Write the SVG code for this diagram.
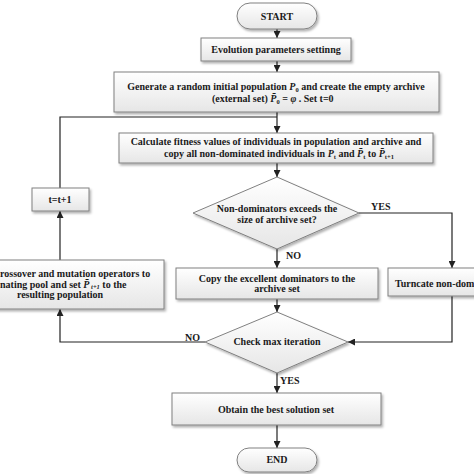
<svg xmlns="http://www.w3.org/2000/svg" width="474" height="474" viewBox="0 0 474 474">
<defs>
<linearGradient id="g" x1="0" y1="0" x2="0" y2="1">
<stop offset="0" stop-color="#ffffff"/>
<stop offset="1" stop-color="#e6e6e6"/>
</linearGradient>
<filter id="sh" x="-10%" y="-20%" width="130%" height="150%">
<feDropShadow dx="1.5" dy="2" stdDeviation="1" flood-color="#000" flood-opacity="0.3"/>
</filter>
<marker id="ah" viewBox="0 0 10 10" refX="10" refY="5" markerWidth="7" markerHeight="7" markerUnits="userSpaceOnUse" orient="auto">
<path d="M0,0 L10,5 L0,10 z" fill="#222"/>
</marker>
<style>
.n{fill:url(#g);stroke:#808080;stroke-width:1;filter:url(#sh)}
text{font-family:'Liberation Serif','Times New Roman','DejaVu Serif',serif;font-size:10px;font-weight:bold;fill:#1a1a1a}
.c{text-anchor:middle}
.i{font-style:italic}
.s{font-size:6.5px}
.e{fill:none;stroke:#222;stroke-width:1.2}
.a{marker-end:url(#ah)}
</style>
</defs>
<rect width="474" height="474" fill="#ffffff"/>

<g id="connectors">
<path class="e a" d="M277,29 V38"/>
<path class="e a" d="M277,61 V72"/>
<path class="e a" d="M277,112 V133"/>
<path class="e" d="M60,188 V117 H277"/>
<path class="e a" d="M60,260 V211"/>
<path class="e a" d="M277,163 V177"/>
<path class="e a" d="M359,213 H452 V268"/>
<path class="e a" d="M277,249 V268"/>
<path class="e a" d="M277,299 V312"/>
<path class="e a" d="M452,296 V342 H348"/>
<path class="e a" d="M205,342 H60 V309"/>
<path class="e a" d="M277,373 V393"/>
<path class="e a" d="M277,425 V448"/>
<text x="371" y="209.5">YES</text>
<text x="286" y="258.5">NO</text>
<text x="185" y="340.5">NO</text>
<text x="280" y="383.5">YES</text>
</g>

<g id="start">
<rect class="n" x="237" y="3" width="80" height="26" rx="13"/>
<text class="c" x="277" y="19.5">START</text>
</g>

<g id="evolution">
<rect class="n" x="201" y="38" width="150" height="23"/>
<text class="c" x="276" y="53">Evolution parameters settinng</text>
</g>

<g id="generate">
<rect class="n" x="114" y="72" width="325" height="40"/>
<text class="c" x="276" y="89.5">Generate a random initial population <tspan class="i">P</tspan><tspan class="s" dy="2">0</tspan><tspan dy="-2"> and create the empty archive</tspan></text>
<text x="212" y="101.5">(external set)  <tspan class="i">P̄</tspan><tspan class="s" dy="2">0</tspan><tspan dy="-2"> = </tspan><tspan class="i">φ</tspan> . Set t=0</text>
</g>

<g id="calculate">
<rect class="n" x="119" y="133" width="314" height="30"/>
<text class="c" x="276" y="145">Calculate fitness values of individuals in population and archive and</text>
<text x="164" y="156.5">copy all non-dominated individuals in <tspan class="i">P</tspan><tspan class="s" dy="2">t</tspan><tspan dy="-2"> and </tspan><tspan class="i">P̄</tspan><tspan class="s" dy="2">t</tspan><tspan dy="-2">  to </tspan><tspan class="i">P̄</tspan><tspan class="s" dy="2">t+1</tspan></text>
</g>

<g id="decision1">
<polygon class="n" points="277,177 359,213 277,249 193,213"/>
<text class="c" x="277" y="211.5">Non-dominators exceeds the</text>
<text class="c" x="277" y="222.5">size of archive set?</text>
</g>

<g id="increment">
<rect class="n" x="32" y="188" width="57" height="23"/>
<text class="c" x="60" y="202.5">t=t+1</text>
</g>

<g id="crossover">
<rect class="n" x="-10" y="260" width="174" height="49"/>
<text x="0" y="277">rossover and mutation operators to</text>
<text x="0" y="287.5">nating pool and set  <tspan class="i">P̄</tspan><tspan class="s i" dy="1.5"> t+1</tspan><tspan dy="-1.5"> to the</tspan></text>
<text class="c" x="60" y="298">resulting population</text>
</g>

<g id="copy">
<rect class="n" x="176" y="268" width="202" height="31"/>
<text class="c" x="277" y="281.5">Copy the excellent dominators to the</text>
<text class="c" x="277" y="292">archive set</text>
</g>

<g id="truncate">
<rect class="n" x="388" y="268" width="100" height="28"/>
<text x="395" y="286.5">Turncate non-dom</text>
</g>

<g id="decision2">
<polygon class="n" points="277,312 348,342 277,373 205,342"/>
<text class="c" x="277" y="344.5">Check max iteration</text>
</g>

<g id="obtain">
<rect class="n" x="172" y="393" width="209" height="32"/>
<text class="c" x="276" y="412.5">Obtain the best solution set</text>
</g>

<g id="end">
<rect class="n" x="237" y="448" width="80" height="24" rx="12"/>
<text class="c" x="277" y="463">END</text>
</g>
</svg>
